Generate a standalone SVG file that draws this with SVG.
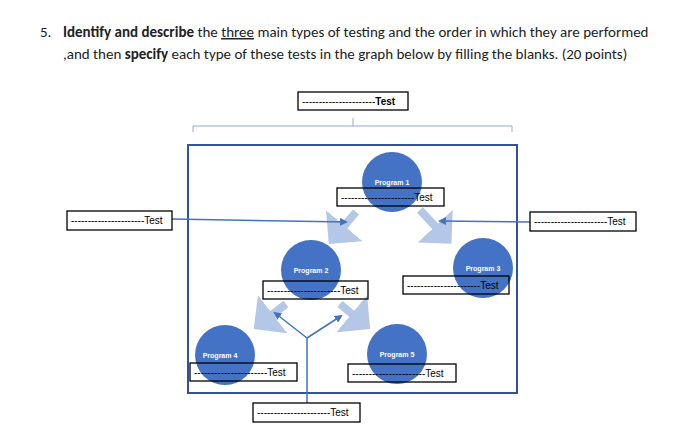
<svg xmlns="http://www.w3.org/2000/svg" width="684" height="448" viewBox="0 0 684 448">
<style>
.t{font-family:Calibri,"Carlito","Liberation Sans",sans-serif;font-size:15px;fill:#222}
.lb{font-family:"Liberation Sans",sans-serif;font-size:10px;fill:#000}
.box{fill:none;stroke:#000;stroke-width:1.3}
.c{fill:#4472C4}
.pl{font-family:"Liberation Sans",sans-serif;font-size:7px;font-weight:bold;fill:#fff;text-anchor:middle}
.thin{stroke:#4472C4;stroke-width:1.5;fill:none}
.fat{stroke:#B4C7E7;stroke-width:8;fill:none}
</style>
<defs>
<marker id="a" markerWidth="8" markerHeight="8" refX="6" refY="4" orient="auto" markerUnits="userSpaceOnUse"><path d="M0,0L8,4L0,8z" fill="#4472C4"/></marker>
<marker id="f" markerWidth="6" markerHeight="6" refX="2" refY="3" orient="auto"><path d="M0,0L3,3L0,6z" fill="#B4C7E7"/></marker>
</defs>
<rect width="684" height="448" fill="#fff"/>
<text class="t" x="40" y="37">5.<tspan x="63" font-weight="bold">Identify and describe</tspan> the <tspan text-decoration="underline">three</tspan> main types of testing and the order in which they are performed</text>
<text class="t" x="63" y="59">,and then <tspan font-weight="bold">specify</tspan> each type of these tests in the graph below by filling the blanks. (20 points)</text>
<g id="frame"><rect x="188" y="145" width="329" height="248" fill="none" stroke="#2F5597" stroke-width="2"/></g>
<g id="brace"><path d="M193,132 V126 H353 V118 M353,126 H512 V132" fill="none" stroke="#8EA9DB" stroke-width="1"/></g>
<g id="connectors">
<path class="fat" d="M356,212 L334,238" marker-end="url(#f)"/>
<path class="fat" d="M420,210 L446,238" marker-end="url(#f)"/>
<path class="fat" d="M286,304 L260,324" marker-end="url(#f)"/>
<path class="fat" d="M340,304 L364,324" marker-end="url(#f)"/>
<path class="thin" d="M172,219 L346,222" marker-end="url(#a)"/>
<path class="thin" d="M530,222 L440,221" marker-end="url(#a)"/>
<path class="thin" d="M307,403 V338 L275,313" marker-end="url(#a)"/>
<path class="thin" d="M307,338 L341,316" marker-end="url(#a)"/>
</g>
<g id="test-top"><rect class="box" x="298" y="92" width="110" height="18"/><text class="lb" x="302" y="105">----------------------<tspan font-weight="bold">Test</tspan></text></g>
<g id="test-left"><rect class="box" x="67" y="211" width="105" height="19"/><text class="lb" x="71" y="224">----------------------Test</text></g>
<g id="test-right"><rect class="box" x="530" y="212" width="106" height="19"/><text class="lb" x="534" y="225">----------------------Test</text></g>
<g id="test-bottom"><rect class="box" x="253" y="403" width="107" height="19"/><text class="lb" x="257" y="416">----------------------Test</text></g>
<g id="p1"><circle class="c" cx="392" cy="182" r="30"/><text class="pl" x="392" y="185">Program 1</text><rect class="box" x="337" y="188" width="107" height="18"/><text class="lb" x="341" y="201">----------------------Test</text></g>
<g id="p2"><circle class="c" cx="311" cy="270" r="30"/><text class="pl" x="311" y="273">Program 2</text><rect class="box" x="263" y="281" width="105" height="18"/><text class="lb" x="267" y="294">----------------------Test</text></g>
<g id="p3"><circle class="c" cx="483" cy="268" r="30"/><text class="pl" x="483" y="271">Program 3</text><rect class="box" x="403" y="276" width="106" height="18"/><text class="lb" x="407" y="289">----------------------Test</text></g>
<g id="p4"><circle class="c" cx="225" cy="355" r="30"/><text class="pl" x="220" y="358">Program 4</text><rect class="box" x="190" y="363" width="107" height="18"/><text class="lb" x="194" y="376">----------------------Test</text></g>
<g id="p5"><circle class="c" cx="397" cy="354" r="30"/><text class="pl" x="397" y="357">Program 5</text><rect class="box" x="348" y="364" width="108" height="18"/><text class="lb" x="352" y="377">----------------------Test</text></g>
</svg>
